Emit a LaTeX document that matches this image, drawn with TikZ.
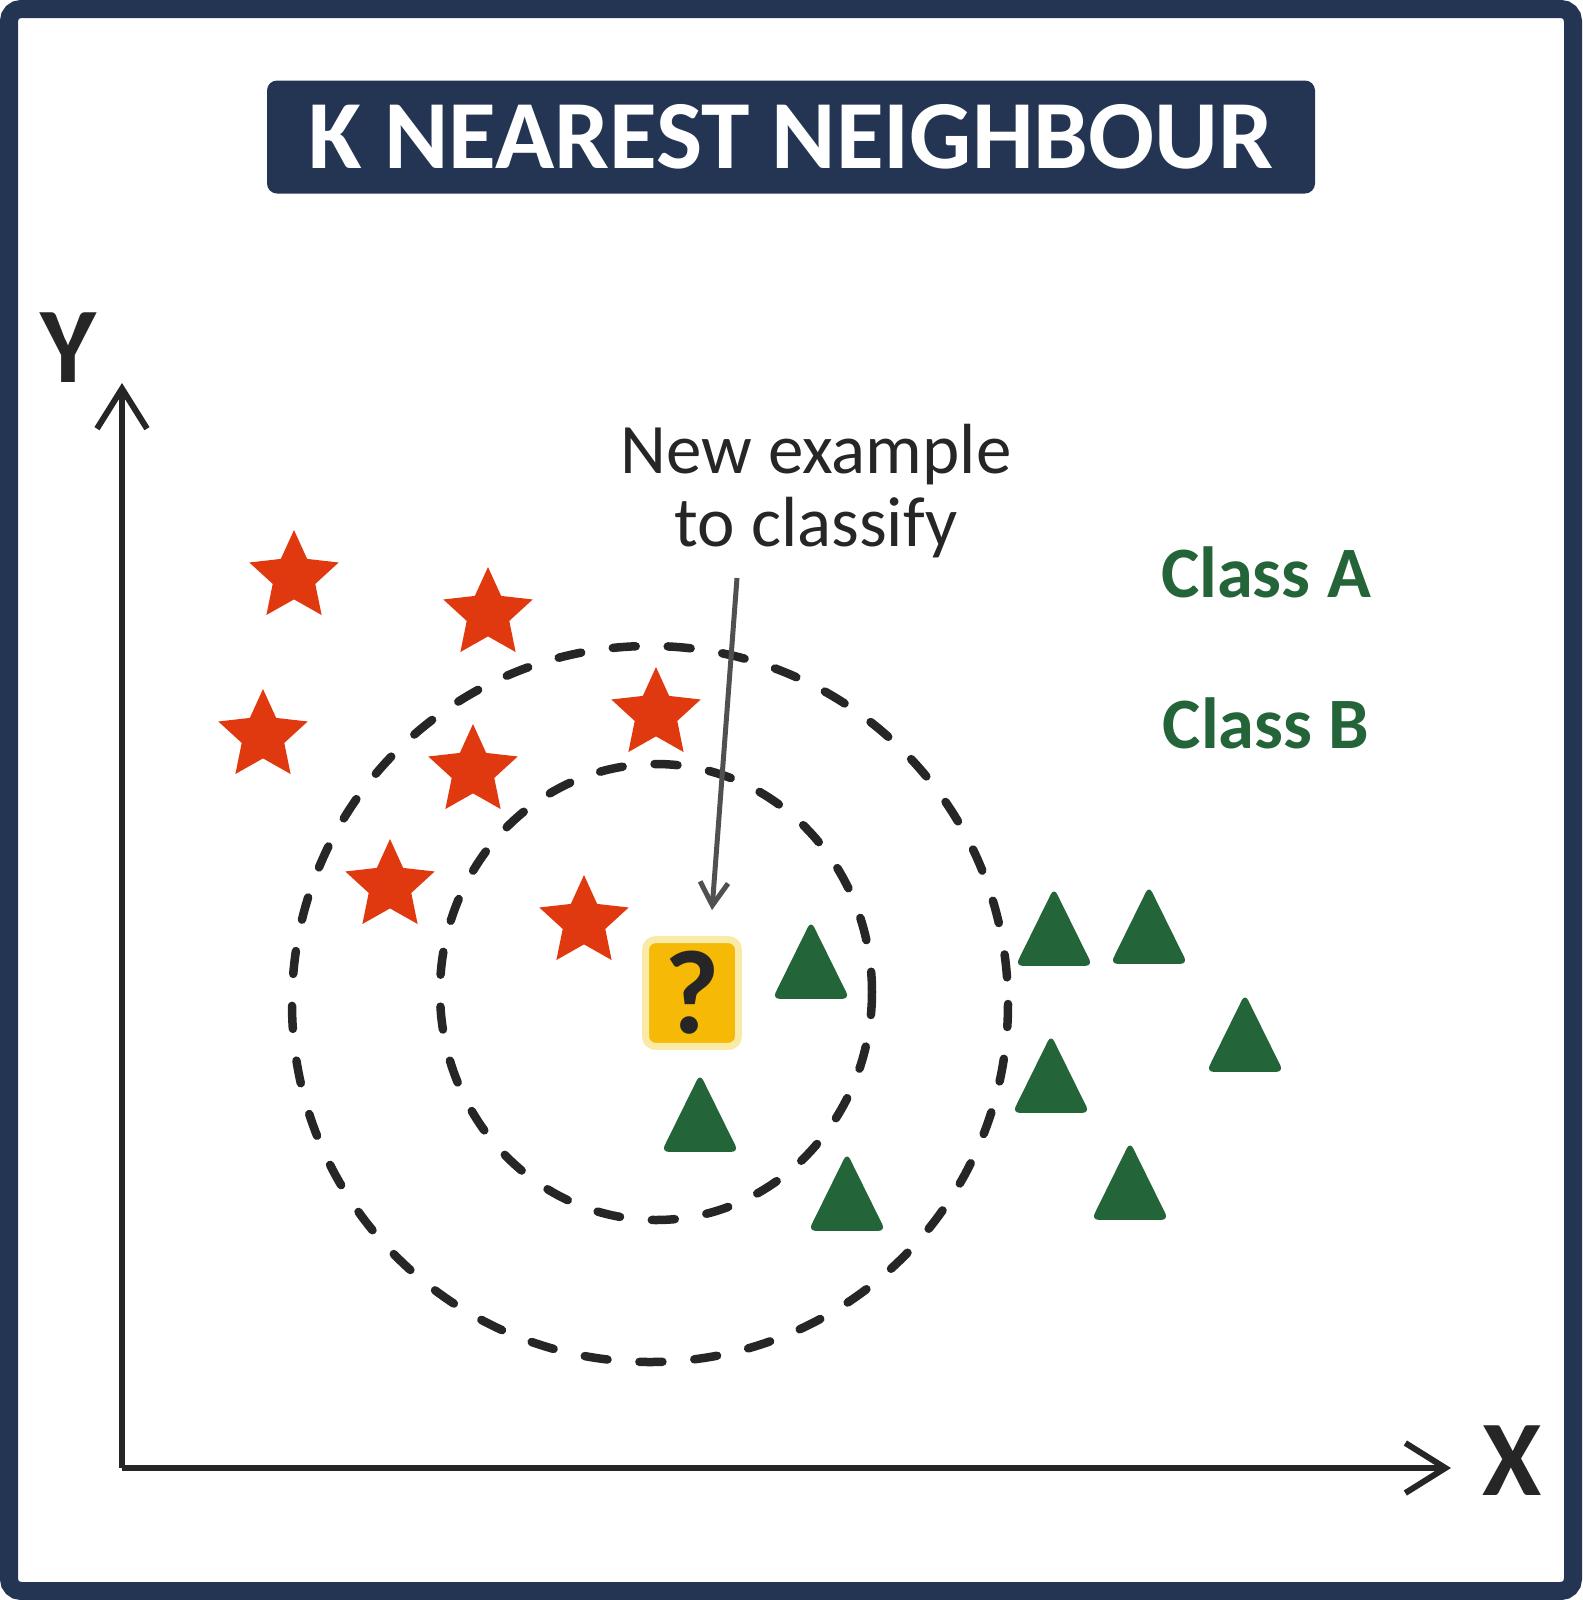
\documentclass[tikz,border=0pt]{standalone}
\usepackage{fontspec}
\setmainfont{Carlito}
\usetikzlibrary{shapes.geometric,arrows.meta}
\definecolor{navy}{HTML}{243553}
\definecolor{starred}{HTML}{E0390F}
\definecolor{trigreen}{HTML}{246439}
\definecolor{qyellow}{HTML}{F6BA06}
\definecolor{qglow}{HTML}{FAEAA8}
\definecolor{ink}{HTML}{262626}
\definecolor{pointgray}{HTML}{505050}
\tikzset{
  outerframe/.style={draw=navy, line width=1.8mm, rounded corners=1.2mm},
  titlebox/.style={fill=navy, rounded corners=1mm, minimum width=104.8mm, minimum height=11.3mm,
    text=white, font=\bfseries\fontsize{27.8}{30}\selectfont},
  axisline/.style={draw=ink, line width=0.6mm, -{Straight Barb[length=4mm,width=5mm]}},
  axislbl/.style={text=ink, font=\bfseries\fontsize{30.6}{32}\selectfont, inner sep=0},
  pointer/.style={draw=pointgray, line width=0.5mm, -{Straight Barb[length=2.3mm,width=2.8mm]}},
  dashring/.style={draw=ink, line width=0.85mm, line cap=round, dash pattern=on 2.3mm off 3.2mm},
  redstar/.style={star, star points=5, star point ratio=2.1, minimum size=9.4mm, inner sep=0, fill=starred},
  greentri/.style={isosceles triangle, isosceles triangle stretches, rotate=90, minimum width=7.7mm,
    minimum height=7.8mm, inner sep=0, fill=trigreen, rounded corners=2pt, anchor=apex},
  querybox/.style={fill=qyellow, draw=qglow, line width=0.7mm, rounded corners=1mm, minimum width=9.3mm,
    minimum height=8.9mm, text=ink, font=\bfseries\fontsize{34}{36}\selectfont},
  classlbl/.style={text=trigreen, font=\bfseries\fontsize{20.6}{22}\selectfont, anchor=base}
}
\begin{document}
\begin{tikzpicture}[x=0.1mm, y=-0.1mm]
  \useasboundingbox (0,0) rectangle (1582,1600);
  \draw[outerframe] (9,9) rectangle (1573,1591);

  \node[titlebox] at (791,137) (title) {K NEAREST NEIGHBOUR};

  % axes
  \coordinate (origin) at (122,1468);
  \coordinate (y_top) at (122,383);
  \coordinate (x_end) at (1451,1468);
  \draw[axisline] (origin) -- (y_top);
  \draw[axisline] (origin) -- (x_end);
  \node[axislbl] at (68,348) (y_lbl) {Y};
  \node[axislbl] at (1512,1461) (x_lbl) {X};

  % neighbourhoods
  \draw[dashring] (656,992) ellipse [x radius=216, y radius=228];
  \draw[dashring] (650,1004) circle [radius=358];

  % class A
  \node[redstar] at (294,577) (star_a) {};
  \node[redstar] at (488,614) (star_b) {};
  \node[redstar] at (263,736) (star_c) {};
  \node[redstar] at (473,771) (star_d) {};
  \node[redstar] at (656,714) (star_e) {};
  \node[redstar] at (390,886) (star_f) {};
  \node[redstar] at (584,922) (star_g) {};

  % class B
  \node[greentri] at (811,919) (tri_a) {};
  \node[greentri] at (700,1072) (tri_b) {};
  \node[greentri] at (847,1151) (tri_c) {};
  \node[greentri] at (1054,886) (tri_d) {};
  \node[greentri] at (1149,884) (tri_e) {};
  \node[greentri] at (1245,992) (tri_f) {};
  \node[greentri] at (1051,1033) (tri_g) {};
  \node[greentri] at (1130,1140) (tri_h) {};

  \node[querybox] at (692,993) (query) {?};

  \node[text=ink, align=center, inner sep=0, font=\fontsize{20.2}{21}\selectfont] at (816,491) (new_ex)
    {New example\\to classify};
  \draw[pointer] ([xshift=-7.9mm, yshift=-1.9mm]new_ex.south) -- ([xshift=2mm, yshift=2.6mm]query.north);

  \node[classlbl] at (1266,597) (class_a) {Class A};
  \node[classlbl] at (1266,748) (class_b) {Class B};
\end{tikzpicture}
\end{document}
